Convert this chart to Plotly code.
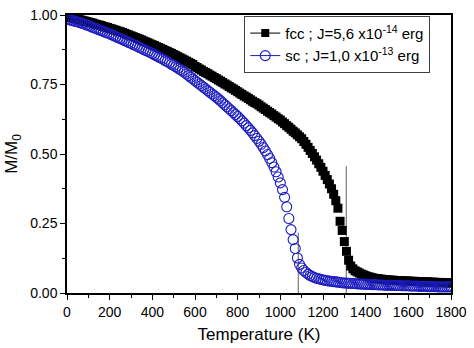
import plotly.graph_objects as go

# Temperature grid (K)
temperature = list(range(0, 1810, 10))

# fcc ; J=5.6e-14 erg  (black filled squares)
m_fcc = [
    0.995, 0.993, 0.991, 0.989, 0.987, 0.985, 0.983, 0.981, 0.979, 0.977,
    0.975, 0.973, 0.971, 0.968, 0.966, 0.964, 0.962, 0.959, 0.957, 0.955,
    0.952, 0.950, 0.947, 0.945, 0.942, 0.940, 0.937, 0.934, 0.931, 0.928,
    0.925, 0.922, 0.919, 0.916, 0.913, 0.910, 0.906, 0.903, 0.900, 0.896,
    0.893, 0.890, 0.886, 0.883, 0.879, 0.876, 0.872, 0.869, 0.865, 0.862,
    0.858, 0.854, 0.850, 0.846, 0.842, 0.838, 0.834, 0.830, 0.826, 0.822,
    0.815, 0.811, 0.806, 0.802, 0.797, 0.793, 0.789, 0.784, 0.780, 0.775,
    0.771, 0.766, 0.762, 0.757, 0.752, 0.748, 0.743, 0.738, 0.734, 0.729,
    0.724, 0.719, 0.714, 0.709, 0.705, 0.700, 0.695, 0.690, 0.685, 0.681,
    0.676, 0.670, 0.665, 0.660, 0.654, 0.649, 0.644, 0.638, 0.633, 0.627,
    0.622, 0.615, 0.609, 0.602, 0.596, 0.589, 0.582, 0.576, 0.569, 0.562,
    0.555, 0.545, 0.535, 0.524, 0.513, 0.502, 0.490, 0.478, 0.465, 0.452,
    0.438, 0.423, 0.408, 0.392, 0.375, 0.355, 0.332, 0.305, 0.258, 0.225,
    0.185, 0.150, 0.118, 0.097, 0.087, 0.080, 0.076, 0.072, 0.068, 0.065,
    0.062, 0.059, 0.057, 0.055, 0.053, 0.052, 0.051, 0.050, 0.049, 0.048,
    0.047, 0.047, 0.046, 0.046, 0.045, 0.045, 0.044, 0.044, 0.043, 0.043,
    0.043, 0.042, 0.042, 0.042, 0.041, 0.041, 0.041, 0.040, 0.040, 0.040,
    0.039, 0.039, 0.039, 0.038, 0.038, 0.038, 0.037, 0.037, 0.037, 0.036,
    0.036,
]

# sc ; J=1.0e-13 erg  (blue open circles)
m_sc = [
    0.985, 0.983, 0.981, 0.979, 0.977, 0.975, 0.973, 0.970, 0.968, 0.965,
    0.962, 0.959, 0.956, 0.953, 0.950, 0.947, 0.944, 0.941, 0.938, 0.935,
    0.932, 0.929, 0.925, 0.922, 0.918, 0.915, 0.912, 0.908, 0.905, 0.901,
    0.898, 0.894, 0.891, 0.887, 0.883, 0.880, 0.876, 0.872, 0.869, 0.865,
    0.861, 0.857, 0.853, 0.849, 0.845, 0.841, 0.836, 0.832, 0.828, 0.823,
    0.819, 0.814, 0.809, 0.804, 0.799, 0.794, 0.788, 0.782, 0.776, 0.770,
    0.764, 0.758, 0.752, 0.746, 0.740, 0.734, 0.728, 0.722, 0.716, 0.710,
    0.704, 0.698, 0.691, 0.684, 0.677, 0.670, 0.663, 0.656, 0.649, 0.642,
    0.635, 0.627, 0.619, 0.611, 0.602, 0.594, 0.585, 0.576, 0.566, 0.556,
    0.546, 0.535, 0.523, 0.511, 0.498, 0.484, 0.469, 0.453, 0.436, 0.417,
    0.396, 0.372, 0.344, 0.310, 0.268, 0.228, 0.192, 0.160, 0.126, 0.103,
    0.090, 0.081, 0.074, 0.068, 0.063, 0.059, 0.056, 0.053, 0.051, 0.049,
    0.047, 0.046, 0.044, 0.043, 0.042, 0.041, 0.040, 0.039, 0.038, 0.037,
    0.036, 0.036, 0.035, 0.035, 0.034, 0.034, 0.033, 0.033, 0.032, 0.032,
    0.031, 0.031, 0.031, 0.030, 0.030, 0.030, 0.029, 0.029, 0.029, 0.028,
    0.028, 0.028, 0.028, 0.027, 0.027, 0.027, 0.027, 0.026, 0.026, 0.026,
    0.026, 0.025, 0.025, 0.025, 0.025, 0.024, 0.024, 0.024, 0.024, 0.023,
    0.023, 0.023, 0.023, 0.023, 0.022, 0.022, 0.022, 0.022, 0.022, 0.022,
    0.022,
]

# Critical-temperature marker lines
tc_temperature = [1084, 1309]
tc_height = [0.217, 0.456]

label_fcc = "fcc ; J=5,6 x10<sup>-14</sup> erg"
label_sc = "sc ; J=1,0 x10<sup>-13</sup> erg"

x_ticks = [0, 200, 400, 600, 800, 1000, 1200, 1400, 1600, 1800]
y_ticks = [0.0, 0.25, 0.5, 0.75, 1.0]

BLUE = "#1c1cc0"
FONT = "Arial, Liberation Sans, sans-serif"

fig = go.Figure()

for t, h in zip(tc_temperature, tc_height):
    fig.add_trace(go.Scatter(x=[t, t], y=[0, h], mode="lines",
                             line=dict(color="#606060", width=1),
                             showlegend=False, hoverinfo="skip"))

fig.add_trace(go.Scatter(x=temperature, y=m_fcc, mode="markers",
                         marker=dict(symbol="square", size=9, color="black",
                                     line=dict(width=0)),
                         showlegend=False))
fig.add_trace(go.Scatter(x=temperature, y=m_sc, mode="markers",
                         marker=dict(symbol="circle-open", size=10, color=BLUE,
                                     line=dict(width=1.1, color=BLUE)),
                         showlegend=False))

# legend entries (line + symbol, as in the original)
fig.add_trace(go.Scatter(x=[None], y=[None], mode="lines+markers", name=label_fcc,
                         line=dict(color="black", width=1),
                         marker=dict(symbol="square", size=8, color="black")))
fig.add_trace(go.Scatter(x=[None], y=[None], mode="lines+markers", name=label_sc,
                         line=dict(color=BLUE, width=1),
                         marker=dict(symbol="circle-open", size=10, color=BLUE,
                                     line=dict(width=1.1, color=BLUE))))

axis_common = dict(showline=True, linecolor="black", linewidth=1.5, mirror=True,
                   ticks="outside", ticklen=5, tickwidth=1.2, tickcolor="black",
                   showgrid=False, zeroline=False,
                   tickfont=dict(family=FONT, size=14, color="black"))

fig.update_xaxes(range=[0, 1800], tickvals=x_ticks,
                 minor=dict(dtick=100, tick0=0, ticks="outside", ticklen=3,
                            tickwidth=1, tickcolor="black"),
                 title=dict(text="Temperature (K)", standoff=10,
                            font=dict(family=FONT, size=17, color="black")),
                 **axis_common)
fig.update_yaxes(range=[0, 1], tickvals=y_ticks, tickformat=".2f",
                 minor=dict(dtick=0.125, tick0=0, ticks="outside", ticklen=3,
                            tickwidth=1, tickcolor="black"),
                 title=dict(text="M/M<sub>0</sub>", standoff=8,
                            font=dict(family=FONT, size=17, color="black")),
                 **axis_common)

fig.update_layout(
    width=474, height=348,
    margin=dict(l=67, r=19, t=7, b=55),
    plot_bgcolor="white", paper_bgcolor="white",
    font=dict(family=FONT, color="black"),
    legend=dict(x=0.946, xanchor="right", y=0.997, yanchor="top",
                bgcolor="white", bordercolor="#404040", borderwidth=1,
                font=dict(family=FONT, size=15, color="black"),
                itemwidth=30, tracegroupgap=0),
)

fig.write_html("out.html")
